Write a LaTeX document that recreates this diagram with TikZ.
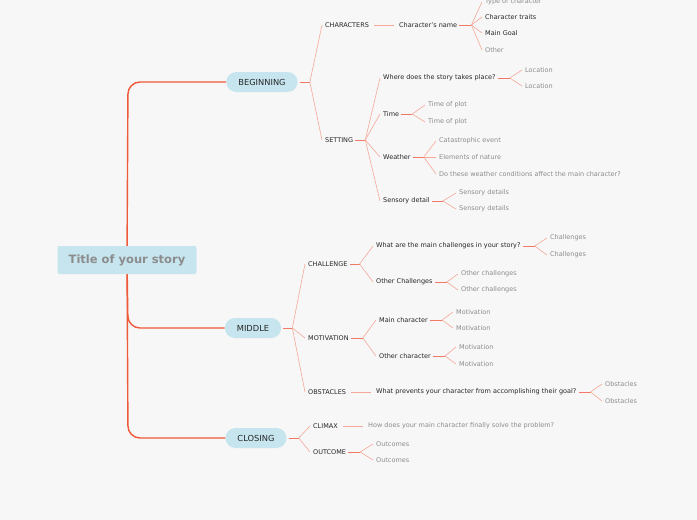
\documentclass[tikz,border=0pt]{standalone}
\usepackage{fontspec}
\setmainfont{DejaVu Sans}
\definecolor{pillc}{HTML}{C6E5EF}
\definecolor{trk}{HTML}{EE5A3A}
\definecolor{stm}{HTML}{F07A66}
\definecolor{cnn}{HTML}{F5A898}
\begin{document}
\begin{tikzpicture}[x=1pt,y=-1pt,
  t/.style={anchor=west,inner sep=0pt,yshift=-1pt,font=\fontsize{6.5}{7}\selectfont,text=black!85},
  g/.style={t,text=black!45},
  pill/.style={rounded corners=10pt,fill=pillc,minimum height=20pt,inner xsep=12pt,font=\fontsize{8.3}{9}\selectfont,text=black!85},
  title/.style={rounded corners=2pt,fill=pillc,minimum width=139pt,minimum height=28pt,font=\bfseries\fontsize{11.5}{12}\selectfont,text=black!45},
  conn/.style={draw=cnn,line width=0.6pt},
  stem/.style={draw=stm,line width=1pt},
  trunk/.style={draw=trk,line width=1.4pt,rounded corners=12pt}]
\fill[black!3] (0,0) rectangle (697,520);
\useasboundingbox (0,0) rectangle (697,520);
\newcommand\mybr[3]{\draw[stem] ([xshift=2]#1.east) -- ++(#2,0) coordinate (f);
  \foreach \c in {#3} \draw[conn] (f) -- ([xshift=-3]\c.west);}
\newcommand\myln{\draw[conn]}
% central
\coordinate (Tc) at (127,260);
\node[pill] (B) at (262,82) {BEGINNING};
\node[pill] (M) at (253,328) {MIDDLE};
\node[pill] (C) at (256,438) {CLOSING};
\draw[trunk] (Tc) -- (128,82) -- (B.west);
\draw[trunk] (Tc) -- (128,328) -- (M.west);
\draw[trunk] (Tc) -- (128,438) -- (C.west);
\node[title] (T) at (Tc) {Title of your story};
% beginning
\node[t] (ch) at (325,24) {CHARACTERS};
\node[t] (se) at (325,139) {SETTING};
\mybr{B}{10}{ch,se}
\node[t] (cn) at (399,24) {Character's name};
\myln ([xshift=5]ch.east) -- ([xshift=-5]cn.west);
\node[g] (c1) at (485,1) {Type of character};
\node[t] (c2) at (485,16) {Character traits};
\node[t] (c3) at (485,32) {Main Goal};
\node[g] (c4) at (485,49) {Other};
\mybr{cn}{12}{c1,c2,c3,c4}
\node[t] (s1) at (383,77) {Where does the story takes place?};
\node[t] (s2) at (383,113) {Time};
\node[t] (s3) at (383,156) {Weather};
\node[t] (s4) at (383,200) {Sensory detail};
\mybr{se}{10}{s1,s2,s3,s4}
\node[g] (l1) at (525,69) {Location};
\node[g] (l2) at (525,85) {Location};
\mybr{s1}{12}{l1,l2}
\node[g] (p1) at (428,104) {Time of plot};
\node[g] (p2) at (428,121) {Time of plot};
\mybr{s2}{11}{p1,p2}
\node[g] (w1) at (439,140) {Catastrophic event};
\node[g] (w2) at (439,156) {Elements of nature};
\node[g] (w3) at (439,173) {Do these weather conditions affect the main character?};
\mybr{s3}{11}{w1,w2,w3}
\node[g] (d1) at (459,192) {Sensory details};
\node[g] (d2) at (459,208) {Sensory details};
\mybr{s4}{11}{d1,d2}
% middle
\node[t] (mc) at (308,263) {CHALLENGE};
\node[t] (mm) at (308,337) {MOTIVATION};
\node[t] (mo) at (308,391) {OBSTACLES};
\mybr{M}{9}{mc,mm,mo}
\node[t] (a1) at (376,245) {What are the main challenges in your story?};
\node[t] (a2) at (376,281) {Other Challenges};
\mybr{mc}{10}{a1,a2}
\node[g] (a11) at (550,237) {Challenges};
\node[g] (a12) at (550,254) {Challenges};
\mybr{a1}{12}{a11,a12}
\node[g] (a21) at (461,273) {Other challenges};
\node[g] (a22) at (461,289) {Other challenges};
\mybr{a2}{12}{a21,a22}
\node[t] (b1) at (379,319) {Main character};
\node[t] (b2) at (379,355) {Other character};
\mybr{mm}{12}{b1,b2}
\node[g] (b11) at (456,311) {Motivation};
\node[g] (b12) at (456,327) {Motivation};
\mybr{b1}{12}{b11,b12}
\node[g] (b21) at (459,346) {Motivation};
\node[g] (b22) at (459,363) {Motivation};
\mybr{b2}{12}{b21,b22}
\node[t] (o1) at (376,391) {What prevents your character from accomplishing their goal?};
\myln ([xshift=5]mo.east) -- ([xshift=-5]o1.west);
\node[g] (o11) at (605,383) {Obstacles};
\node[g] (o12) at (605,400) {Obstacles};
\mybr{o1}{12}{o11,o12}
% closing
\node[t] (cl) at (313,425) {CLIMAX};
\node[t] (co) at (313,451) {OUTCOME};
\mybr{C}{10}{cl,co}
\node[g] (cl1) at (368,425) {How does your main character finally solve the problem?};
\myln ([xshift=5]cl.east) -- ([xshift=-5]cl1.west);
\node[g] (co1) at (376,443) {Outcomes};
\node[g] (co2) at (376,459) {Outcomes};
\mybr{co}{12}{co1,co2}
\end{tikzpicture}
\end{document}
